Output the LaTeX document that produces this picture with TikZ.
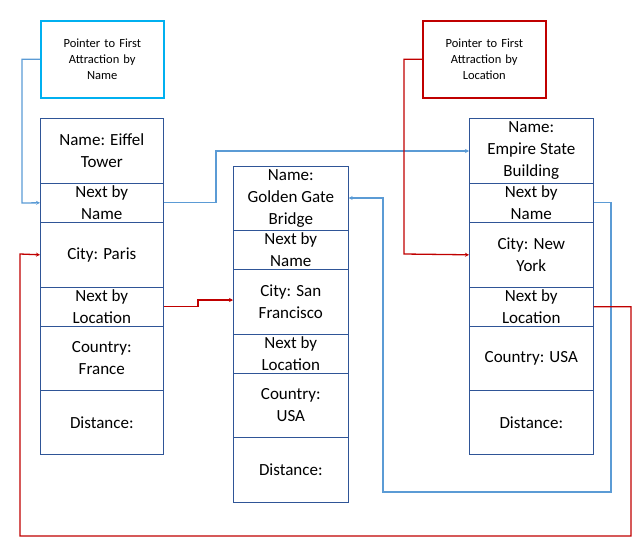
\documentclass[tikz,border=0pt]{standalone}
\usepackage{fontspec}
\setmainfont{Carlito}
\usetikzlibrary{arrows.meta}
\definecolor{rec}{RGB}{47,85,151}
\definecolor{lb}{RGB}{91,155,213}
\definecolor{cy}{RGB}{0,176,240}
\definecolor{dr}{RGB}{192,0,0}
\begin{document}
\begin{tikzpicture}[x=1pt,y=-1pt,
  cell/.style={draw=rec,line width=0.6pt,minimum width=#1,inner sep=1pt,align=center,font=\fontsize{17}{22}\selectfont,anchor=north west},
  ptr/.style={line width=1.6pt,align=center,font=\fontsize{12.5}{16}\selectfont,inner sep=2pt,minimum width=123pt,minimum height=77pt,anchor=north west},
  bl/.style={draw=lb,line width=1.3pt,-{Stealth[length=4pt,width=4pt]}},
  rd/.style={draw=dr,line width=1.3pt,-{Stealth[length=4pt,width=4pt]}}]
\useasboundingbox (0,0) rectangle (644,554);
% pointer boxes
\node[ptr,draw=cy,text width=110pt] (pl) at (40,20) {Pointer to First\\Attraction by\\Name};
\node[ptr,draw=dr,text width=110pt] (pr) at (422,20) {Pointer to First\\Attraction by\\Location};
% left record
\node[cell=123pt,minimum height=65pt] (l1) at (40,118) {Name: Eiffel\\Tower};
\node[cell=123pt,minimum height=39pt] (l2) at (40,183) {Next by\\Name};
\node[cell=123pt,minimum height=65pt] (l3) at (40,222) {City: Paris};
\node[cell=123pt,minimum height=39pt] (l4) at (40,287) {Next by\\Location};
\node[cell=123pt,minimum height=64pt] (l5) at (40,326) {Country:\\France};
\node[cell=123pt,minimum height=64pt] (l6) at (40,390) {Distance:};
% middle record
\node[cell=115pt,minimum height=64pt] (m1) at (233,166) {Name:\\Golden Gate\\Bridge};
\node[cell=115pt,minimum height=39pt] (m2) at (233,230) {Next by\\Name};
\node[cell=115pt,minimum height=65pt] (m3) at (233,269) {City: San\\Francisco};
\node[cell=115pt,minimum height=39pt] (m4) at (233,334) {Next by\\Location};
\node[cell=115pt,minimum height=64pt] (m5) at (233,373) {Country:\\USA};
\node[cell=115pt,minimum height=65pt] (m6) at (233,437) {Distance:};
% right record
\node[cell=124pt,minimum height=65pt] (r1) at (469,118) {Name:\\Empire State\\Building};
\node[cell=124pt,minimum height=39pt] (r2) at (469,183) {Next by\\Name};
\node[cell=124pt,minimum height=65pt] (r3) at (469,222) {City: New\\York};
\node[cell=124pt,minimum height=39pt] (r4) at (469,287) {Next by\\Location};
\node[cell=124pt,minimum height=64pt] (r5) at (469,326) {Country: USA};
\node[cell=124pt,minimum height=64pt] (r6) at (469,390) {Distance:};
% connectors
\draw[bl] (pl.west) -| (22,203) -- (l2.west);
\draw[bl] (l2.east) -| (216,151) -- (r1.west |- 0,151);
\draw[bl] (r2.east) -| (611,492) -| (383,198) -- (m1.east |- 0,198);
\draw[rd] (pr.west) -| (404,254) -- (r3.west);
\draw[rd] (l4.east) -| (198,300) -- (m3.west |- 0,300);
\draw[rd] (r4.east) -| (631,536) -| (20,254) -- (l3.west);
\end{tikzpicture}
\end{document}
